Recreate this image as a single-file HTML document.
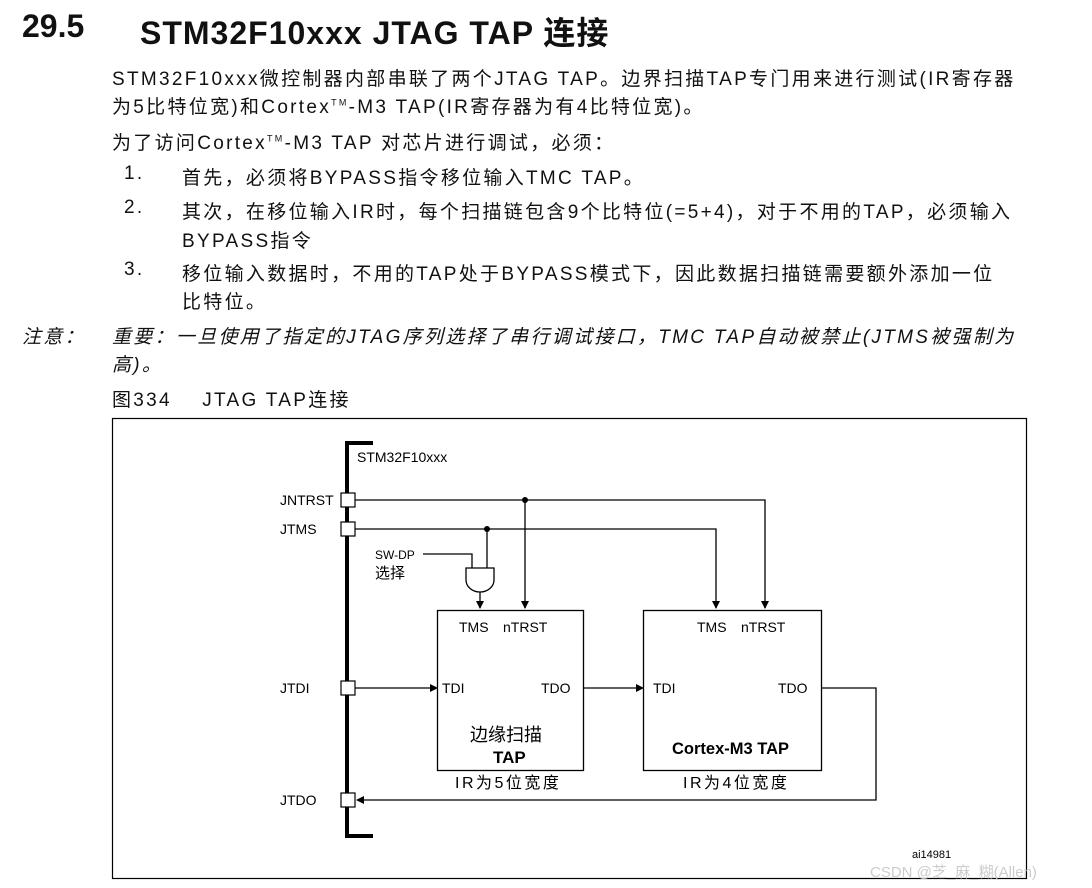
<!DOCTYPE html>
<html><head><meta charset="utf-8"><style>
body{margin:0;width:1092px;height:888px;background:#fff;position:relative;font-family:"Liberation Sans","Noto Sans CJK SC",sans-serif;color:#111;overflow:hidden}
.t{position:absolute;white-space:nowrap;font-size:19px;letter-spacing:2.3px}
.i{font-style:italic}
</style></head><body>
<div class="t" style="left:22px;top:8px;font-size:32px;font-weight:bold;letter-spacing:0">29.5</div>
<div class="t" style="left:140px;top:8px;font-size:32px;font-weight:bold;letter-spacing:1px">STM32F10xxx JTAG TAP 连接</div>
<div class="t" style="left:112px;top:64px">STM32F10xxx微控制器内部串联了两个JTAG TAP。边界扫描TAP专门用来进行测试(IR寄存器</div>
<div class="t" style="left:112px;top:92px">为5比特位宽)和Cortex<sup style="font-size:9px">TM</sup>-M3 TAP(IR寄存器为有4比特位宽)。</div>
<div class="t" style="left:112px;top:128px">为了访问Cortex<sup style="font-size:9px">TM</sup>-M3 TAP 对芯片进行调试，必须：</div>
<div class="t" style="left:124px;top:163px">1.</div><div class="t" style="left:182px;top:163px">首先，必须将BYPASS指令移位输入TMC TAP。</div>
<div class="t" style="left:124px;top:197px">2.</div><div class="t" style="left:182px;top:197px">其次，在移位输入IR时，每个扫描链包含9个比特位(=5+4)，对于不用的TAP，必须输入</div>
<div class="t" style="left:182px;top:226px">BYPASS指令</div>
<div class="t" style="left:124px;top:259px">3.</div><div class="t" style="left:182px;top:259px">移位输入数据时，不用的TAP处于BYPASS模式下，因此数据扫描链需要额外添加一位</div>
<div class="t" style="left:182px;top:287px">比特位。</div>
<div class="t i" style="left:22px;top:322px">注意：</div>
<div class="t i" style="left:112px;top:322px">重要：一旦使用了指定的JTAG序列选择了串行调试接口，TMC TAP自动被禁止(JTMS被强制为</div>
<div class="t i" style="left:112px;top:350px">高)。</div>
<div class="t" style="left:112px;top:385px">图334&nbsp;&nbsp;&nbsp;&nbsp;JTAG TAP连接</div>
<svg style="position:absolute;left:0;top:0" width="1092" height="888" font-family="Liberation Sans,Noto Sans CJK SC,sans-serif" font-size="14">
<defs><marker id="a" markerWidth="8" markerHeight="8" refX="7" refY="4" orient="auto" markerUnits="userSpaceOnUse"><path d="M0,0L8,4L0,8z" fill="#000"/></marker></defs>
<rect x="112.5" y="418.5" width="914" height="460" fill="none" stroke="#000" stroke-width="1.2"/>
<path d="M373,443H347V836H373" fill="none" stroke="#000" stroke-width="4"/>
<g fill="#fff" stroke="#000" stroke-width="1.2">
<rect x="341" y="493" width="14" height="14"/><rect x="341" y="522" width="14" height="14"/>
<rect x="341" y="681" width="14" height="14"/><rect x="341" y="793" width="14" height="14"/></g>
<g fill="none" stroke="#000" stroke-width="1.3">
<path d="M355,500H765V608" marker-end="url(#a)"/>
<path d="M525,500V608" marker-end="url(#a)"/>
<path d="M355,529H716V608" marker-end="url(#a)"/>
<path d="M487,529V568"/>
<path d="M423,554H472V568"/>
<path d="M480,592V608" marker-end="url(#a)"/>
<path d="M466,568H494V580A14,12 0 0 1 466,580Z"/>
<path d="M355,688H437" marker-end="url(#a)"/>
<path d="M583,688H643" marker-end="url(#a)"/>
<path d="M821,688H876V800H357" marker-end="url(#a)"/>
<rect x="437.5" y="610.5" width="146" height="160"/>
<rect x="643.5" y="610.5" width="178" height="160"/>
</g>
<circle cx="525" cy="500" r="3"/><circle cx="487" cy="529" r="3"/>
<text x="357" y="462">STM32F10xxx</text>
<text x="280" y="505">JNTRST</text><text x="280" y="534">JTMS</text>
<text x="280" y="693">JTDI</text><text x="280" y="805">JTDO</text>
<text x="375" y="559" font-size="12">SW-DP</text><text x="375" y="578" font-size="15">选择</text>
<text x="459" y="632">TMS</text><text x="503" y="632">nTRST</text>
<text x="697" y="632">TMS</text><text x="741" y="632">nTRST</text>
<text x="442" y="693">TDI</text><text x="541" y="693">TDO</text>
<text x="653" y="693">TDI</text><text x="778" y="693">TDO</text>
<text x="470" y="741" font-size="18">边缘扫描</text>
<text x="493" y="763" font-size="17" font-weight="bold">TAP</text>
<text x="672" y="754" font-size="16.5" font-weight="bold">Cortex-M3 TAP</text>
<text x="455" y="788" font-size="16" letter-spacing="2.5">IR为5位宽度</text>
<text x="683" y="788" font-size="16" letter-spacing="2.5">IR为4位宽度</text>
<text x="912" y="858" font-size="11">ai14981</text>
<text x="870" y="877" font-size="15" fill="#ccc">CSDN @芝_麻_糊(Allen)</text>
</svg>
</body></html>
